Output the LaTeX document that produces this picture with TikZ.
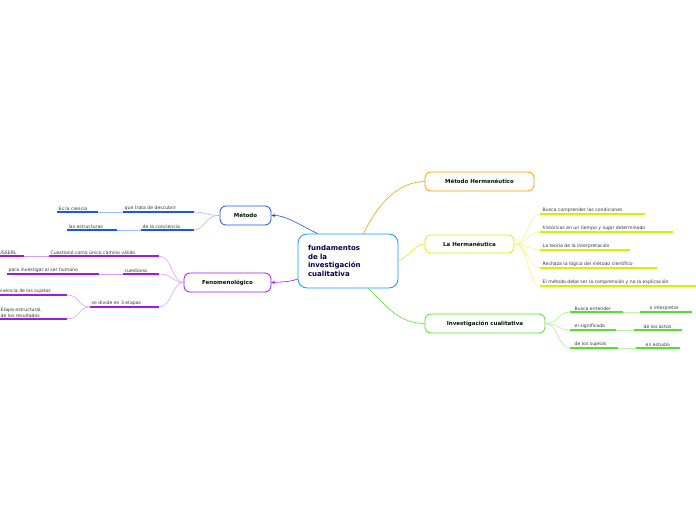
\documentclass[tikz,border=0pt]{standalone}
\usepackage{fontspec}
\setmainfont{DejaVu Sans}
\begin{document}
\begin{tikzpicture}[x=1pt,y=-1pt,
  topic/.style={draw,rounded corners=6pt,line width=0.8pt,fill=white,font=\fontsize{5.5}{6}\selectfont\bfseries,text=black!75!green!40!black,inner sep=0pt},
  lbl/.style={anchor=south west,inner sep=1.5pt,font=\fontsize{4.6}{5.6}\selectfont,text=black!80,align=left},
  ul/.style={line width=1.3pt},
  lk/.style={line width=0.6pt}]
\useasboundingbox (0,0) rectangle (696,520);
\definecolor{cB}{HTML}{1A56E8}\definecolor{cP}{HTML}{9B1BE0}
\definecolor{cO}{HTML}{F5A000}\definecolor{cY}{HTML}{D8F000}\definecolor{cG}{HTML}{55E030}
% center
\node[draw=cB!60!cyan,rounded corners=9pt,line width=0.8pt,minimum width=100,minimum height=54,text width=80,align=left,font=\fontsize{7}{8.5}\selectfont\bfseries,text=blue!30!black] (c) at (348,261) {fundamentos\\de la\\investigación\\cualitativa};
\node[topic,draw=cO,minimum width=109,minimum height=19] (mh) at (479.5,181.5) {Método Hermenéutico};
\node[topic,draw=cY,minimum width=89,minimum height=18] (lh) at (469.5,244) {La Hermanéutica};
\node[topic,draw=cG,minimum width=120,minimum height=19] (ic) at (485,323.5) {Investigación cualitativa};
\node[topic,draw=cB,minimum width=51,minimum height=19] (me) at (245.5,215.5) {Método};
\node[topic,draw=cP,minimum width=87,minimum height=19] (fe) at (227.5,282.5) {Fenomenológico};
\draw[cO,lk] (c.north east)++(-35,0) coordinate (c1) (c1) .. controls (380,200) and (400,182) .. (mh.west);
\draw[cY,lk] (c.east) .. controls (410,256) and (415,244) .. (lh.west);
\draw[cG,lk] (c.south east)++(-30,0) coordinate (c2) (c2) .. controls (390,310) and (400,323) .. (ic.west);
\draw[cB,lk,->,>=stealth] (c.north west)++(20,0) coordinate (c3) (c3) .. controls (300,225) and (285,215) .. (me.east);
\draw[cP,lk,->,>=stealth] (c.west)++(0,18) coordinate (c4) (c4) .. controls (290,282) and (280,282) .. (fe.east);
% Metodo
\node[lbl] (m1) at (123,212) {que trata de descubrir};
\node[lbl] (m0) at (57,212) {Es la ciencia};
\node[lbl] (m2) at (141,230) {de la conciencia};
\node[lbl] (m3) at (67,230) {las estructuras};
\draw[cB,ul] (123,212)--(194,212) (57,212)--(98,212) (141,230)--(194,230) (67,230)--(117,230);
\draw[cB!40,lk] (98,212)--(123,212) (117,230)--(141,230);
\draw[cB!40,lk] (me.west) .. controls (205,215) and (205,212) .. (194,212);
\draw[cB!40,lk] (me.west) .. controls (205,215) and (205,230) .. (194,230);
% Fenomenologico
\node[lbl] at (49,256) {Cuestionó como único cámino válido};
\node[lbl] at (-3,256) {USSERL};
\node[lbl] at (123,274) {cuestiona};
\node[lbl] at (7,274) {para investigar al ser humano};
\node[lbl] at (90,307) {se divide en 3 etapas};
\node[lbl] at (-3,295) {vivencia de los sujetos};
\node[lbl] at (-1,319) {Etapa estructural,\\de los resultados};
\draw[cP,ul] (49,256)--(159,256) (0,256)--(24,256) (123,274)--(159,274) (7,274)--(99,274)
  (90,307)--(159,307) (0,295)--(67,295) (0,319)--(67,319);
\draw[cP!40,lk] (24,256)--(49,256) (99,274)--(123,274);
\draw[cP!40,lk] (67,295) .. controls (80,295) and (78,307) .. (90,307);
\draw[cP!40,lk] (67,319) .. controls (80,319) and (78,307) .. (90,307);
\foreach \y in {256,274,307}
  \draw[cP!40,lk] (fe.west) .. controls (172,282) and (172,\y) .. (159,\y);
% Hermaneutica
\foreach \y/\e/\t in {214/645/Busca comprender las condiciones,232/673/históricas en un tiempo y lugar determinado,250/630/La teoría de la interpretación,268/657/Rechaza la lógica del método científico,286/696/El método debe ser la comprensión y no la explicación}{
  \node[lbl] at (541,\y) {\t};
  \draw[cY,ul] (540,\y)--(\e,\y);
  \draw[cY!50,lk] (lh.east) .. controls (528,244) and (528,\y) .. (540,\y);
}
% Investigacion
\foreach \y/\a/\ta/\b/\e/\tb in {312/623/Busca entender/648/692/o interpretar,330/616/el significado/642/682/de los actos,348/618/de los sujetos/644/680/en estudio}{
  \node[lbl] at (573,\y) {\ta};
  \node[lbl] at (\b,\y) {\tb};
  \draw[cG,ul] (570,\y)--(\a,\y) (\b-8,\y)--(\e,\y);
  \draw[cG!40,lk] (\a,\y)--(\b-8,\y);
  \draw[cG!50,lk] (ic.east) .. controls (558,323.5) and (558,\y) .. (570,\y);
}
\end{tikzpicture}
\end{document}
